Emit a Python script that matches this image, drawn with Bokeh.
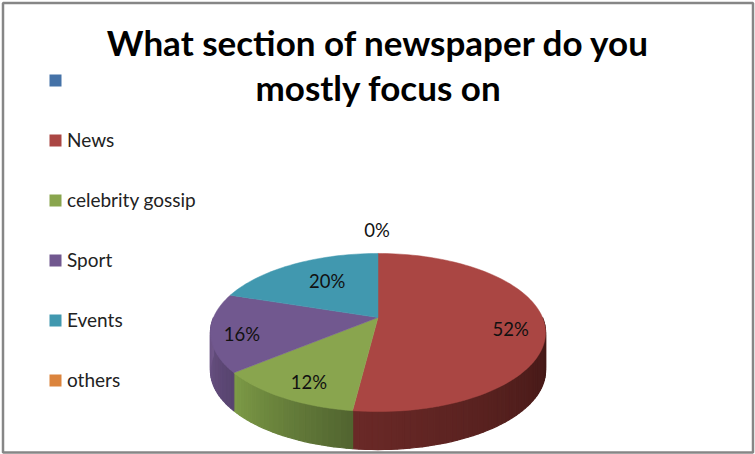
import math
from bokeh.plotting import figure
from bokeh.models import Range1d
from bokeh.core.properties import value
from bokeh.embed import file_html
from bokeh.resources import INLINE

title_lines = ["What section of newspaper do you", "mostly focus on"]
categories = ["", "News", "celebrity gossip", "Sport", "Events", "others"]
shares = [0, 52, 12, 16, 20, 0]
colors = ["#4572A7", "#AA4643", "#89A54E", "#71588F", "#4198AF", "#DB843D"]
side_light = [None, "#6A2927", "#7C9A46", "#6F5688", "#3A8AA0", None]
side_dark = [None, "#3E1614", "#526530", "#584470", "#2C6A7C", None]

# pie geometry (page pixels)
CX, CY, AX, KY, W, DEPTH = 377.5, 317, 164.5, 76.2, 0.19, 38
FONT = value("Lato")

def project(frac, r=1.0):
    t = 2 * math.pi * frac / 100
    u, v = r * math.sin(t), -r * math.cos(t)
    d = 1 - W * v
    return CX + AX * u / d, CY + KY * v / d

def mix(a, b, k):
    ca = [int(a[i:i + 2], 16) for i in (1, 3, 5)]
    cb = [int(b[i:i + 2], 16) for i in (1, 3, 5)]
    return "#%02x%02x%02x" % tuple(round(x + (y - x) * k) for x, y in zip(ca, cb))

p = figure(width=755, height=454, x_range=Range1d(0, 755), y_range=Range1d(454, 0),
           output_backend="svg", toolbar_location=None, min_border=0,
           outline_line_color=None, background_fill_color="white", margin=(0, 0, 0, 0))
p.axis.visible = False
p.grid.visible = False

# chart frame
p.quad(left=[2.5], right=[752.5], top=[2.5], bottom=[452], fill_color=None,
       line_color="#868686", line_width=2.5)

# slice walls, then tops
wall_xs, wall_ys, wall_cs = [], [], []
top_xs, top_ys, top_cs = [], [], []
cum = 0
for share, col, c0, c1 in zip(shares, colors, side_light, side_dark):
    if share == 0:
        continue
    n = max(4, share * 2)
    pts = [project(cum + share * i / n) for i in range(n + 1)]
    top_xs.append([CX] + [q[0] for q in pts])
    top_ys.append([CY] + [q[1] for q in pts])
    top_cs.append(col)
    vis = [i for i in range(n) if 25 <= cum + share * (i + .5) / n <= 75]
    for i in vis:
        (x0, y0), (x1, y1) = pts[i], pts[i + 1]
        k = (i - vis[0]) / max(1, vis[-1] - vis[0])
        wall_xs.append([x0, x1, x1, x0])
        wall_ys.append([y0, y1, y1 + DEPTH, y0 + DEPTH])
        wall_cs.append(mix(c1, c0, k))
    cum += share

p.patches(wall_xs, wall_ys, fill_color=wall_cs, line_color=wall_cs, line_width=1.2)
p.patches(top_xs, top_ys, fill_color=top_cs, line_color=top_cs, line_width=0.5)

# percentage labels
label_dx = [-1, 0, 4, -3, 18]
label_dy = [-23, 8, 3, 5, 7]
label_r = [1.0, 0.8, 0.8, 0.8, 0.8]
lx, ly, lt = [], [], []
cum = 0
j = 0
for share in shares[:5]:
    x, y = project(cum + share / 2, label_r[j])
    lx.append(x + label_dx[j])
    ly.append(y + label_dy[j])
    lt.append(f"{share}%")
    cum += share
    j += 1
p.text(lx, ly, text=lt, text_font=FONT, text_font_size="18.5px", text_color="#111111",
       text_align="center", text_baseline="middle")

# title
p.text([378, 378], [41, 86], text=title_lines, text_font=FONT, text_font_style="bold",
       text_font_size="35px", text_color="black", text_align="center", text_baseline="middle")

# legend
LEG_Y0, LEG_STEP = 80, 60
leg_y = [LEG_Y0 + LEG_STEP * i for i in range(len(categories))]
p.rect([55] * len(categories), leg_y, width=12, height=12, fill_color=colors, line_color=None)
p.text([66.5] * len(categories), [y - 1 for y in leg_y], text=categories, text_font=FONT,
       text_font_size="19px", text_color="#222222", text_align="left", text_baseline="middle")

open("out.html", "w").write(file_html(p, INLINE))
